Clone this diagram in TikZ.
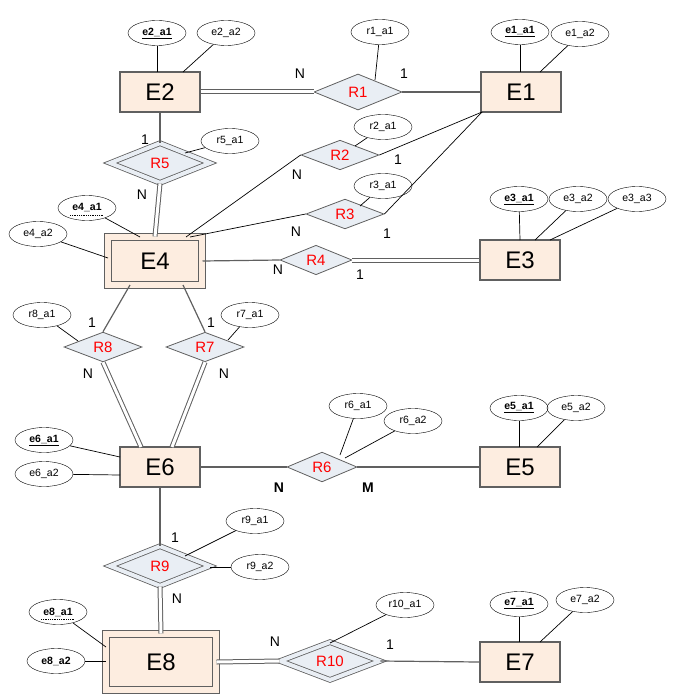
\documentclass[tikz,border=0pt]{standalone}
\usepackage{fontspec}
\setmainfont{Liberation Sans}
\usetikzlibrary{shapes.geometric}
\definecolor{efill}{HTML}{FDEDE0}
\definecolor{rfill}{HTML}{E9EEF4}
\definecolor{lgray}{HTML}{606060}
\begin{document}
\begin{tikzpicture}[x=1pt,y=-1pt,
 ent/.style={draw=lgray,fill=efill,line width=1.2pt,minimum width=80pt,minimum height=40pt,font=\fontsize{24}{24}\selectfont},
 went/.style={ent,double=efill,double distance=6pt,line width=1pt},
 rel/.style={diamond,draw=lgray,fill=rfill,inner sep=0pt,minimum width=#1,minimum height=28pt,text=red,font=\fontsize{15}{15}\selectfont,line width=0.8pt},
 wrel/.style={rel=100pt,minimum height=40pt,double=rfill,double distance=4pt,line width=0.8pt},
 att/.style={ellipse,draw,inner sep=0pt,minimum width=58pt,minimum height=25pt,font=\fontsize{10.5}{10.5}\selectfont},
 key/.style={att,font=\fontsize{10.5}{10.5}\selectfont\bfseries},
 card/.style={font=\fontsize{14}{14}\selectfont},
 bcard/.style={font=\fontsize{14}{14}\selectfont\bfseries},
 lk/.style={draw=lgray,line width=1.2pt},
 dl/.style={draw=lgray,double=white,double distance=3pt,line width=1pt},
 al/.style={draw,line width=0.7pt}]
\useasboundingbox (0,0) rectangle (672,698);
% entities
\node[ent] (E2) at (160,92) {E2};
\node[ent] (E1) at (521,92) {E1};
\node[went,minimum width=94pt,minimum height=48pt] (E4) at (155,261) {E4};
\node[ent] (E3) at (520,260) {E3};
\node[ent] (E6) at (160,467) {E6};
\node[ent] (E5) at (520,467) {E5};
\node[went,minimum width=110pt,minimum height=56pt] (E8) at (161,662) {E8};
\node[ent] (E7) at (520,662) {E7};
% relationships
\node[rel=88pt,minimum height=36pt] (R1) at (358,92) {R1};
\node[wrel] (R5) at (160,163) {R5};
\node[rel=78pt] (R2) at (340,155) {R2};
\node[rel=78pt] (R3) at (345,214) {R3};
\node[rel=72pt] (R4) at (316,260) {R4};
\node[rel=78pt] (R8) at (103,347) {R8};
\node[rel=78pt] (R7) at (205,347) {R7};
\node[rel=70pt] (R6) at (322,467) {R6};
\node[wrel] (R9) at (160,566) {R9};
\node[wrel,minimum height=38pt] (R10) at (330,661) {R10};
% connectors
\path[dl] (E2.east) -- (R1.west);
\path[lk] (R1.east) -- (E1.west);
\path[lk] (E2.south) -- (R5.north);
\path[dl] (R5.south) -- (E4.north);
\coordinate (E4a) at (186,237); \coordinate (E4b) at (190,237);
\coordinate (E1c) at (482,112);
\path[al] (E4a) -- (R2.west); \path[al] (R2.east) -- (E1c);
\path[al] (E4b) -- (R3.west); \path[al] (R3.east) -- (E1c);
\path[lk] (E4.east) -- (R4.west);
\path[dl] (R4.east) -- (E3.west);
\coordinate (E4l) at (130,285); \coordinate (E4r) at (183,285);
\coordinate (E6l) at (141,447); \coordinate (E6r) at (172,447);
\path[lk] (E4l) -- (R8.north); \path[dl] (R8.south) -- (E6l);
\path[lk] (E4r) -- (R7.north); \path[dl] (R7.south) -- (E6r);
\path[lk] (E6.east) -- (R6.west); \path[lk] (R6.east) -- (E5.west);
\path[lk] (E6.south) -- (R9.north);
\path[dl] (R9.south) -- (E8.north);
\path[dl] (E8.east) -- (R10.west);
\path[lk] (R10.east) -- (E7.west);
% cardinalities
\node[card] (c1) at (300,74) {N}; \node[card] (c2) at (404,74) {1};
\node[card] (c3) at (145,140) {1}; \node[card] (c4) at (142,195) {N};
\node[card] (c5) at (297,175) {N}; \node[card] (c6) at (398,160) {1};
\node[card] (c7) at (296,232) {N}; \node[card] (c8) at (387,234) {1};
\node[card] (c9) at (278,270) {N}; \node[card] (c10) at (360,275) {1};
\node[card] (c11) at (92,323) {1}; \node[card] (c12) at (88,374) {N};
\node[card] (c13) at (211,323) {1}; \node[card] (c14) at (224,374) {N};
\node[bcard] (c15) at (279,488) {N}; \node[bcard] (c16) at (368,488) {M};
\node[card] (c17) at (175,538) {1}; \node[card] (c18) at (177,599) {N};
\node[card] (c19) at (275,642) {N}; \node[card] (c20) at (390,645) {1};
% attributes
\node[key] (e2a1) at (157,33) {\underline{e2\_a1}};
\node[att] (e2a2) at (226,33) {e2\_a2};
\node[att] (r1a1) at (380,32) {r1\_a1};
\node[key] (e1a1) at (520,32) {\underline{e1\_a1}};
\node[att] (e1a2) at (580,34) {e1\_a2};
\node[att] (r5a1) at (230,141) {r5\_a1};
\node[att] (r2a1) at (383,127) {r2\_a1};
\node[att] (r3a1) at (383,186) {r3\_a1};
\node[key] (e4a1) at (87,208) {e4\_a1};
\draw[densely dotted,line width=0.8pt] (70,215) -- (104,215);
\node[att] (e4a2) at (38,234) {e4\_a2};
\node[key] (e3a1) at (519,199) {\underline{e3\_a1}};
\node[att] (e3a2) at (578,199) {e3\_a2};
\node[att] (e3a3) at (637,199) {e3\_a3};
\node[att] (r8a1) at (42,315) {r8\_a1};
\node[att] (r7a1) at (250,315) {r7\_a1};
\node[att] (r6a1) at (358,406) {r6\_a1};
\node[att] (r6a2) at (413,421) {r6\_a2};
\node[key] (e5a1) at (519,408) {\underline{e5\_a1}};
\node[att] (e5a2) at (576,408) {e5\_a2};
\node[key] (e6a1) at (44,440) {\underline{e6\_a1}};
\node[att] (e6a2) at (44,474) {e6\_a2};
\node[att] (r9a1) at (255,521) {r9\_a1};
\node[att] (r9a2) at (260,567) {r9\_a2};
\node[key] (e8a1) at (58,612) {e8\_a1};
\draw[densely dotted,line width=0.8pt] (41,619) -- (75,619);
\node[key] (e8a2) at (56,661) {e8\_a2};
\node[att] (r10a1) at (405,605) {r10\_a1};
\node[key] (e7a1) at (519,604) {\underline{e7\_a1}};
\node[att] (e7a2) at (585,600) {e7\_a2};
% attribute links
\foreach \a/\x/\y in {e2a1/157/72, e2a2/183/72, r1a1/375/80, e1a1/520/72, e1a2/540/72,
 r5a1/185/153, r2a1/355/146, r3a1/360/206, e4a1/140/237, e4a2/108/258,
 e3a1/520/240, e3a2/535/240, e3a3/550/240, r8a1/78/341, r7a1/228/340,
 r6a1/340/455, r6a2/345/458, e5a1/519/447, e5a2/537/447, e6a1/120/457, e6a2/120/475,
 r9a1/185/556, r9a2/210/567, e8a1/106/647, e8a2/106/661, r10a1/330/643,
 e7a1/519/642, e7a2/540/642}{
 \coordinate (t\a) at (\x,\y);
 \path[al] (\a) -- (t\a);
}
\end{tikzpicture}
\end{document}
